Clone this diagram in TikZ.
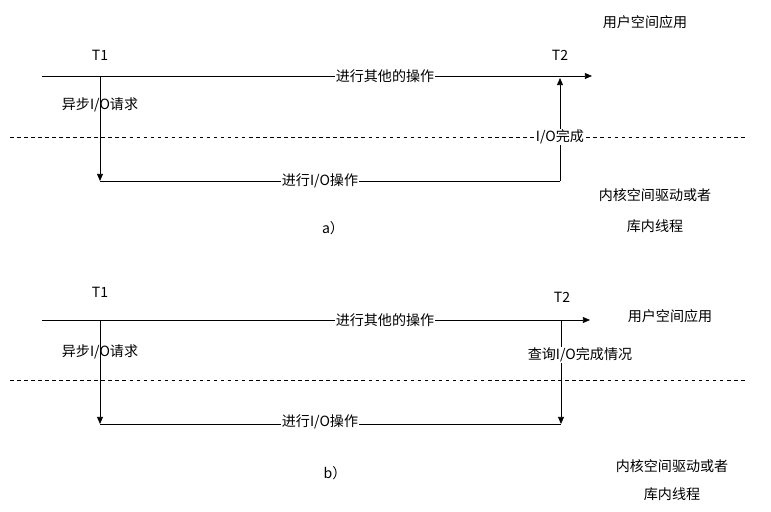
\documentclass[tikz,border=0pt]{standalone}
\usepackage{fontspec}
\setmainfont{Liberation Serif}
\newfontfamily\cjk{Noto Sans CJK SC}
\usetikzlibrary{arrows.meta}
\tikzset{
  lbl/.style={font=\cjk\fontsize{12}{14}\selectfont, inner sep=1pt},
  onln/.style={lbl, fill=white},
  flow/.style={line width=0.6pt, -{Triangle[length=6pt,width=5pt]}},
  plain/.style={line width=0.6pt},
  sep/.style={dashed, line width=0.5pt}
}
\begin{document}
\begin{tikzpicture}[x=0.03cm,y=-0.03cm]
\useasboundingbox (0,0) rectangle (771,512);
% panel a
\node[lbl] (ua) at (645,22) {用户空间应用};
\node[lbl] (t1a) at (100,55) {T1};
\node[lbl] (t2a) at (560,55) {T2};
\coordinate (sa) at (42,76);
\coordinate (ea) at (592,76);
\coordinate (ra) at (100,76);
\coordinate (da) at (100,181);
\coordinate (ba) at (560,181);
\coordinate (qa) at (560,78);
\draw[flow] (sa) -- (ea);
\draw[flow] (ra) -- (da);
\draw[plain] (da) -- (ba);
\draw[flow] (ba) -- (qa);
\node[onln] (oa) at (385,76) {进行其他的操作};
\node[onln] (ioa) at (320,181) {进行I/O操作};
\node[lbl] (rqa) at (100,105) {异步I/O请求};
\coordinate (la) at (10,137);
\coordinate (ma) at (745,137);
\draw[sep] (la) -- (ma);
\node[onln] (ca) at (560,137) {I/O完成};
\node[lbl] (ka) at (655,195) {内核空间驱动或者};
\node[lbl] (kb) at (655,226) {库内线程};
\node[lbl] (pa) at (333,228) {a）};
% panel b
\node[lbl] (ub) at (670,316) {用户空间应用};
\node[lbl] (t1b) at (100,292) {T1};
\node[lbl] (t2b) at (562,297) {T2};
\coordinate (sb) at (42,320);
\coordinate (eb) at (590,320);
\coordinate (rb) at (100,320);
\coordinate (db) at (100,424);
\coordinate (qb) at (561,320);
\coordinate (bb) at (561,424);
\draw[flow] (sb) -- (eb);
\draw[flow] (rb) -- (db);
\draw[plain] (db) -- (bb);
\draw[flow] (qb) -- (bb);
\node[onln] (ob) at (385,320) {进行其他的操作};
\node[onln] (iob) at (320,422) {进行I/O操作};
\node[lbl] (rqb) at (100,352) {异步I/O请求};
\node[onln] (cb) at (580,355) {查询I/O完成情况};
\coordinate (lb) at (10,380);
\coordinate (mb) at (745,380);
\draw[sep] (lb) -- (mb);
\node[lbl] (kc) at (672,466) {内核空间驱动或者};
\node[lbl] (kd) at (672,494) {库内线程};
\node[lbl] (pb) at (335,473) {b）};
\end{tikzpicture}
\end{document}
